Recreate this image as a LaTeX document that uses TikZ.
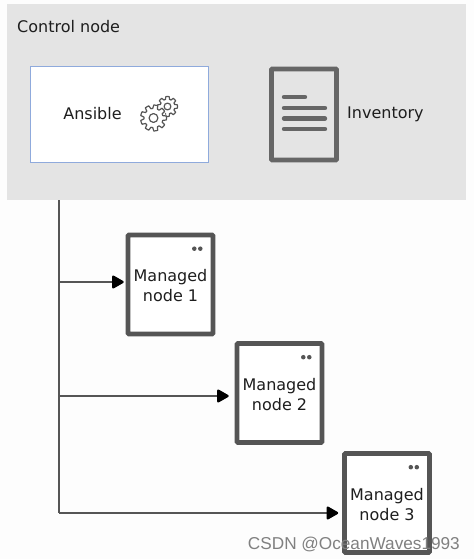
\documentclass[tikz,border=0pt]{standalone}
\usepackage{fontspec}
\setmainfont{DejaVu Sans}
\newfontfamily\wmfont{Liberation Sans}
\usetikzlibrary{arrows.meta,calc}
\definecolor{panelgray}{HTML}{E4E4E4}
\definecolor{boxgray}{HTML}{555555}
\definecolor{docgray}{HTML}{666666}
\definecolor{boxblue}{HTML}{8FAADC}
\definecolor{inkdark}{HTML}{1E1E1E}
\definecolor{pagewhite}{HTML}{FDFDFD}
\tikzset{
  lbl/.style={text=inkdark,font=\fontsize{16}{20}\selectfont,inner sep=0pt},
  managed/.style={draw=boxgray,line width=4.6pt,fill=white,minimum width=85pt,minimum height=99pt,
    inner sep=0pt,align=center,text=inkdark,rounded corners=0.8pt,font=\fontsize{16}{20}\selectfont},
  conn/.style={draw=boxgray,line width=2.4pt},
  arr/.style={draw=boxgray,line width=2.4pt,-{Triangle[length=13pt,width=14pt,color=black,round]}},
  dotmark/.style={circle,fill=boxgray,draw=none,minimum size=4.5pt,inner sep=0pt},
  gear/.style={draw=boxgray,line width=1.2pt,line join=round},
  docline/.style={draw=docgray,line width=4.4pt,line cap=round}
}
\newcommand{\gearpath}[4]{% x, y, outer r, teeth
  \pgfmathsetmacro{\gstep}{360/#4}
  \pgfmathsetmacro{\ginner}{#3*0.74}
  \draw[gear] ($(#1,#2)+(0:#3)$)
  \foreach \gi in {1,...,#4}{
    -- ($(#1,#2)+({(\gi-1)*\gstep+\gstep*0.22}:#3)$)
    -- ($(#1,#2)+({(\gi-1)*\gstep+\gstep*0.36}:\ginner)$)
    -- ($(#1,#2)+({(\gi-1)*\gstep+\gstep*0.64}:\ginner)$)
    -- ($(#1,#2)+({(\gi-1)*\gstep+\gstep*0.78}:#3)$)
    -- ($(#1,#2)+({\gi*\gstep}:#3)$)
  } -- cycle;
  \draw[gear] (#1,#2) circle ({#3*0.34});
}
\begin{document}
\begin{tikzpicture}[x=1pt,y=-1pt]
\useasboundingbox (0,0) rectangle (474,559);
\fill[pagewhite] (0,0) rectangle (474,559);
\fill[panelgray] (7,4.5) rectangle (465.5,200);
\node[lbl,anchor=west] (ctrl) at (17,27) {Control node};
\node[draw=boxblue,line width=0.9pt,fill=white,minimum width=178pt,minimum height=96pt,inner sep=0pt] (ans) at (119.5,114) {};
\node[lbl] (anstext) at (92.5,113.5) {Ansible};
\gearpath{167.5}{106.5}{10}{8}
\fill[white] (153.5,118) circle (12.5);
\gearpath{153.5}{118}{13}{9}
\node[draw=docgray,line width=4.8pt,fill=none,minimum width=65pt,minimum height=91pt,inner sep=0pt,rounded corners=0.8pt] (doc) at (304,114.5) {};
\draw[docline] (284,97) -- (305,97);
\draw[docline] (284,108) -- (325,108);
\draw[docline] (284,118.5) -- (325,118.5);
\draw[docline] (284,129) -- (325,129);
\node[lbl,anchor=west] (inv) at (347,114.5) {Inventory};
\node[managed,text depth=3pt] (m1) at (170.5,284.5) {\\[-3pt]Managed\\node 1};
\node[managed,text depth=3pt] (m2) at (279.5,393) {\\[-3pt]Managed\\node 2};
\node[managed,text depth=3pt] (m3) at (387,503) {\\[-3pt]Managed\\node 3};
\foreach \n in {m1,m2,m3}{
  \node[dotmark] (\n a) at ($(\n.north east)+(-21,16)$) {};
  \node[dotmark] (\n b) at ($(\n.north east)+(-15,16)$) {};
}
\coordinate (top) at (59,200);
\coordinate (j1) at (59,282);
\coordinate (j2) at (59,396);
\coordinate (j3) at (59,513);
\draw[conn] (top) -- (j3);
\draw[arr,shorten >=2pt] (j1) -- (m1.west |- j1);
\draw[arr,shorten >=6pt] (j2) -- (m2.west |- j2);
\draw[arr,shorten >=4pt] (j3) -- (m3.west |- j3);
\node[text=black!50,font=\wmfont\fontsize{17.2}{20}\selectfont,inner sep=0pt,anchor=east] (wm) at (460,544) {CSDN @OceanWaves1993};
\end{tikzpicture}
\end{document}
